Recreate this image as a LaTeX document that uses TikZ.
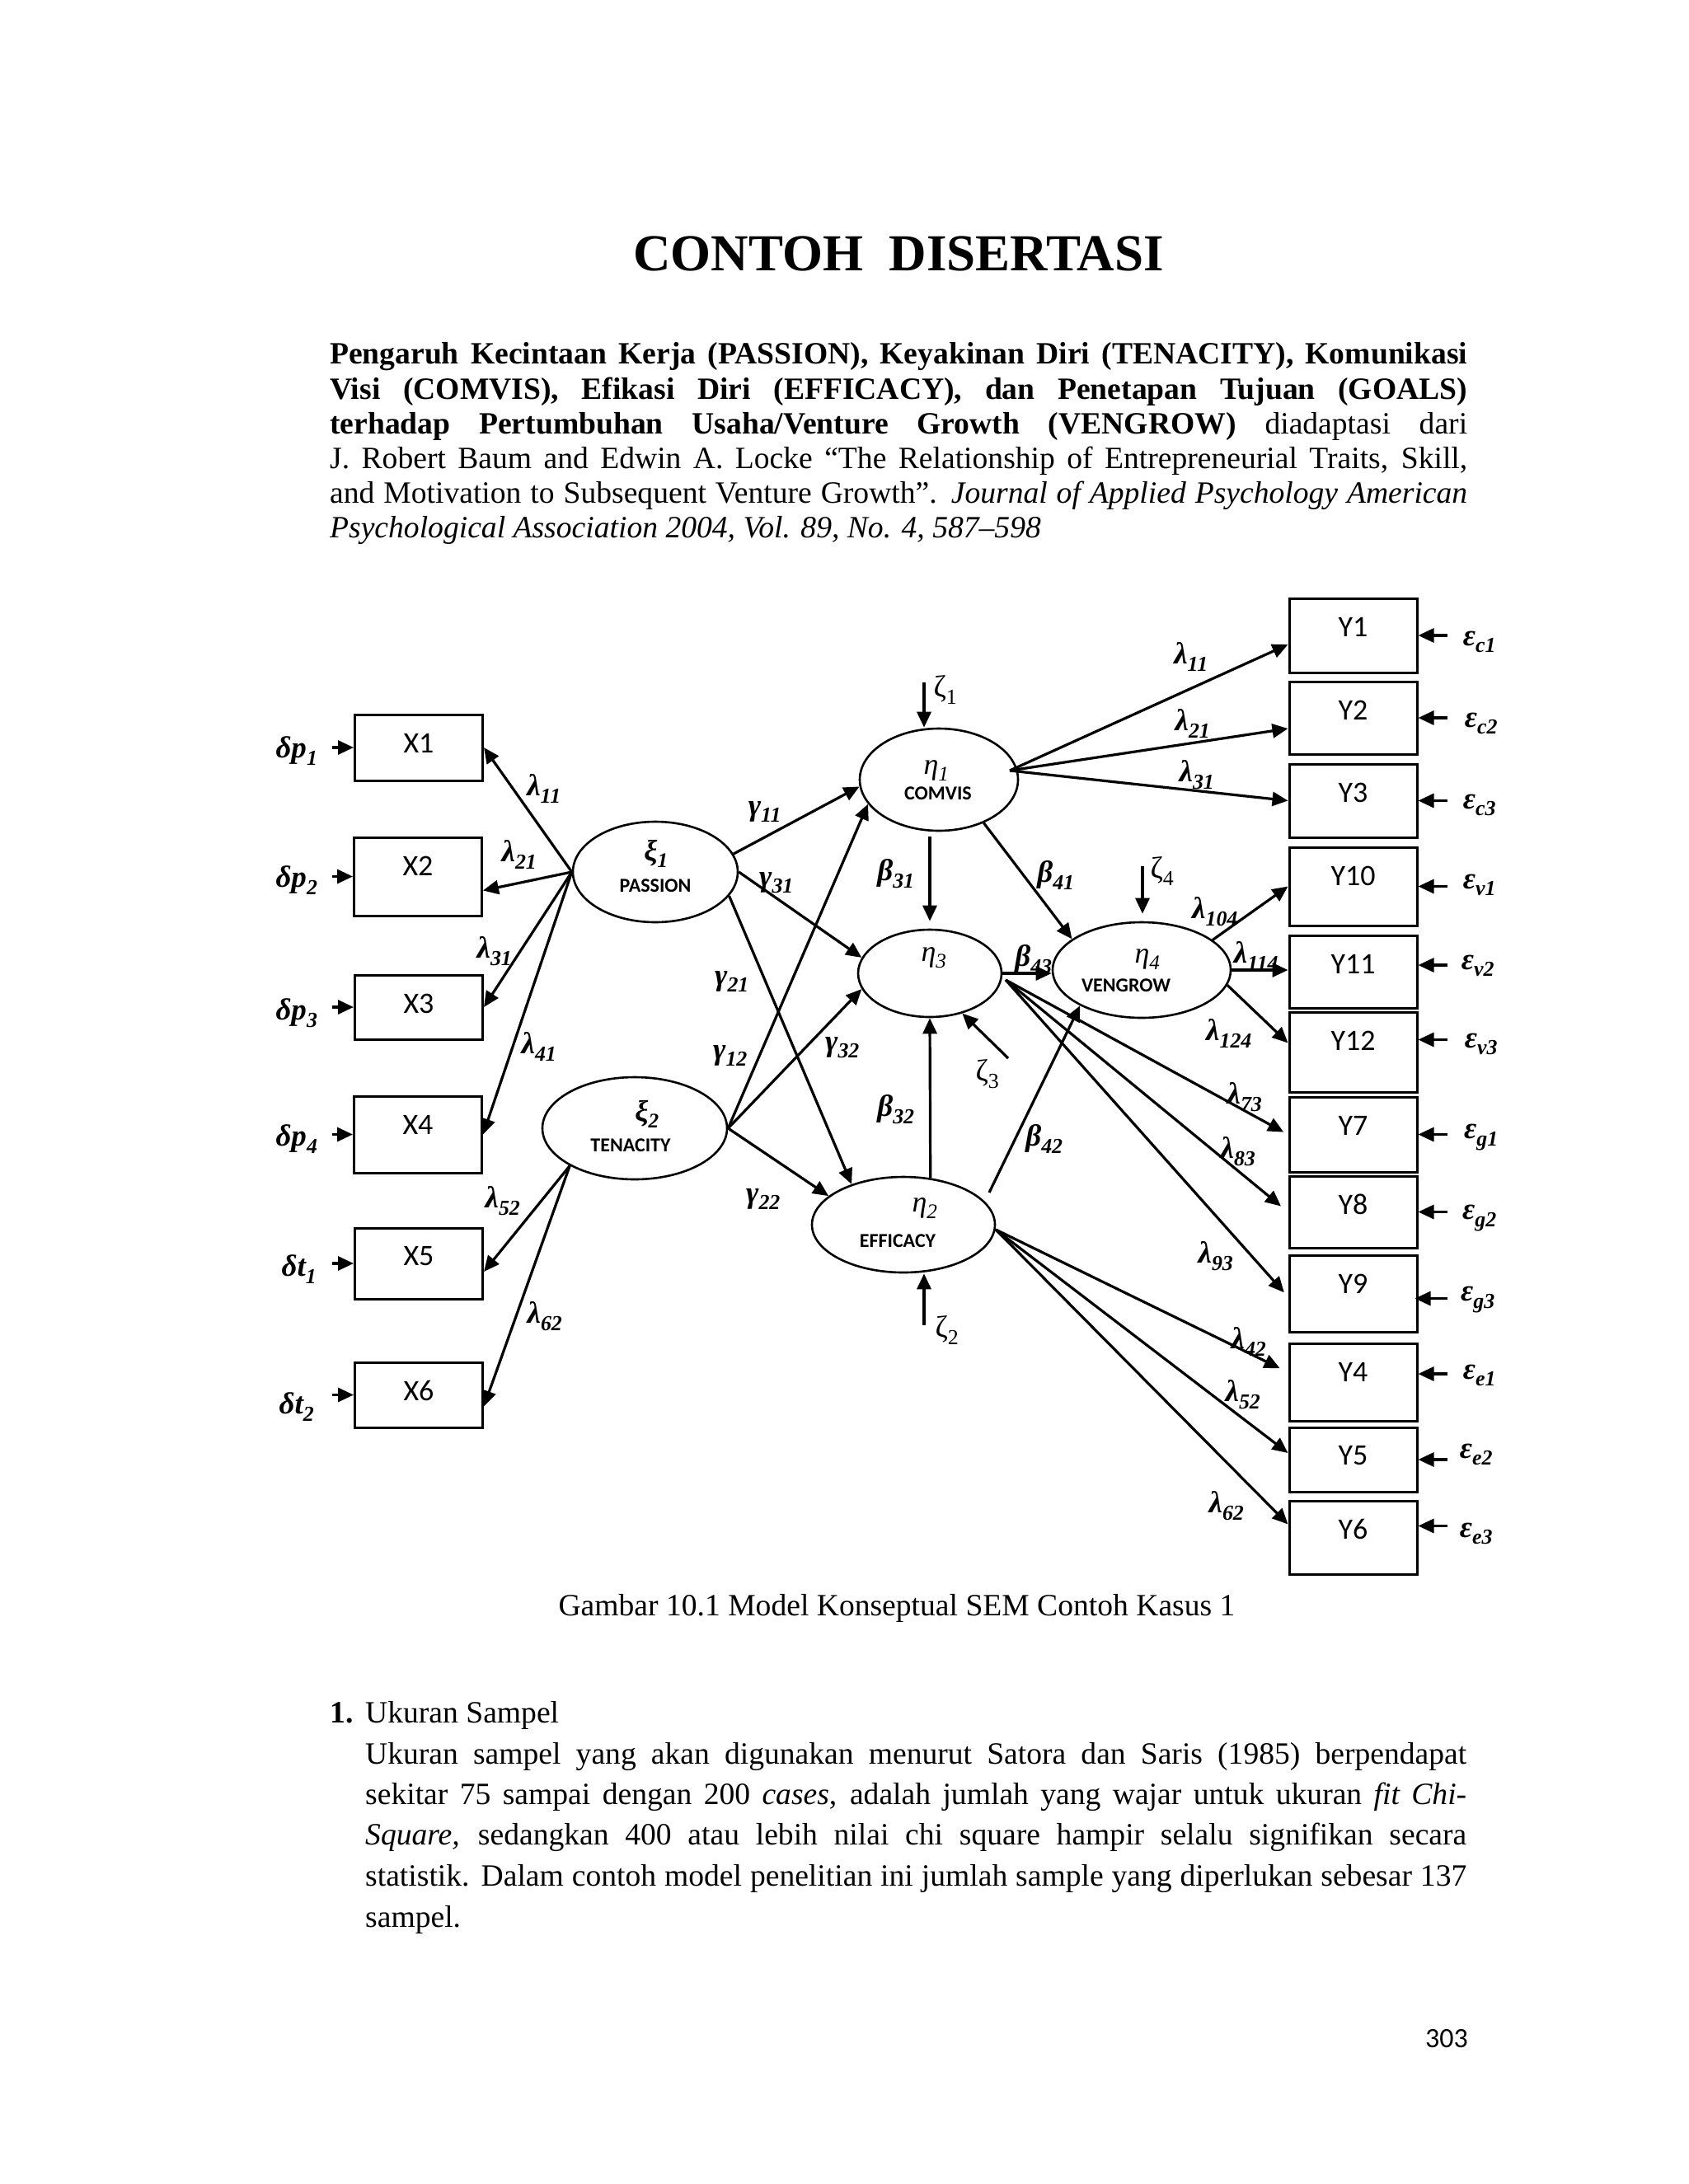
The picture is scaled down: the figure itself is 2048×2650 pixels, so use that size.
\documentclass[tikz,border=0pt]{standalone}
\usepackage{fontspec}
\setmainfont{Liberation Serif}
\newfontfamily\calfont{Carlito}
\usetikzlibrary{arrows.meta,shapes.geometric,calc}
\newcommand{\fs}[1]{\fontsize{#1}{#1}\selectfont}
\newcommand{\gk}[2]{{\bfseries\itshape #1\textsubscript{#2}}}
\newcommand{\gi}[2]{{\itshape #1\textsubscript{#2}}}
\newcommand{\gu}[2]{{#1\textsubscript{#2}}}
\tikzset{
  box/.style={draw, line width=3pt, rectangle, inner sep=0pt, minimum width=155pt},
  blab/.style={inner sep=0pt, font=\calfont\fs{36}},
  lat/.style={draw, line width=2.6pt, ellipse, inner sep=0pt},
  nm/.style={inner sep=0pt, font=\calfont\bfseries\fs{24}},
  arr/.style={line width=3.2pt, -{Triangle[length=19pt,width=17pt]}},
  ln/.style={line width=3.2pt},
  gl/.style={inner sep=0pt, font=\fs{37}},
  gm/.style={inner sep=0pt, font=\fs{36}},
  gz/.style={inner sep=0pt, font=\fs{37}},
  para/.style={anchor=base west, inner sep=0pt, font=\fs{37.6}},
}
\begin{document}
\begin{tikzpicture}[x=1pt,y=-1pt]
\useasboundingbox (0,0) rectangle (2048,2650);
\fill[white] (0,0) rectangle (2048,2650);

% ---------- header text ----------
\node[anchor=base, inner sep=0pt, font=\fs{63}\bfseries] (title) at (1090,328) {CONTOH\ \ DISERTASI};
\node[para] (p1) at (400,441) {\makebox[1380pt][s]{\bfseries Pengaruh Kecintaan Kerja (PASSION), Keyakinan Diri (TENACITY), Komunikasi}};
\node[para] (p2) at (400,484) {\makebox[1380pt][s]{\bfseries Visi (COMVIS), Efikasi Diri (EFFICACY), dan Penetapan Tujuan (GOALS)}};
\node[para] (p3) at (400,526) {\makebox[1380pt][s]{\bfseries terhadap Pertumbuhan Usaha/Venture Growth (VENGROW)\mdseries{} diadaptasi dari}};
\node[para] (p4) at (400,568) {\makebox[1380pt][s]{J. Robert Baum and Edwin A. Locke “The Relationship of Entrepreneurial Traits, Skill,}};
\node[para] (p5) at (400,610) {\makebox[1380pt][s]{and Motivation to Subsequent Venture Growth”. \itshape Journal of Applied Psychology American}};
\node[para] (p6) at (400,652) {\itshape Psychological Association 2004, Vol. 89, No. 4, 587–598};

% ---------- X boxes ----------
\node[box, minimum height=80pt] (X1) at (508,907) {};
\node[box, minimum height=95pt] (X2) at (507,1063.5) {};
\node[box, minimum height=78pt] (X3) at (508,1222) {};
\node[box, minimum height=93pt] (X4) at (507,1376.5) {};
\node[box, minimum height=86pt] (X5) at (508,1533) {};
\node[box, minimum height=79pt] (X6) at (508,1692.5) {};
\foreach \n in {1,...,6}{\node[blab] (X\n t) at ([yshift=-36pt]X\n.north) {X\n};}

% ---------- Y boxes ----------
\node[box, minimum height=90pt] (Y1) at (1641.5,771) {};
\node[box, minimum height=88pt] (Y2) at (1641.5,871) {};
\node[box, minimum height=89pt] (Y3) at (1641.5,971.5) {};
\node[box, minimum height=95pt] (Y10) at (1641.5,1075.5) {};
\node[box, minimum height=88pt] (Y11) at (1641.5,1179) {};
\node[box, minimum height=97pt] (Y12) at (1641.5,1276.5) {};
\node[box, minimum height=91pt] (Y7) at (1641.5,1376.5) {};
\node[box, minimum height=87pt] (Y8) at (1641.5,1470.5) {};
\node[box, minimum height=93pt] (Y9) at (1641.5,1569.5) {};
\node[box, minimum height=94pt] (Y4) at (1641.5,1677) {};
\node[box, minimum height=78pt] (Y5) at (1641.5,1771) {};
\node[box, minimum height=89pt] (Y6) at (1641.5,1865.5) {};
\foreach \n in {1,2,3,10,11,12,7,8,9,4,5,6}{\node[blab] (Y\n t) at ([yshift=-36pt]Y\n.north) {Y\n};}

% ---------- latent ellipses ----------
\node[lat, minimum width=200pt, minimum height=122pt] (PAS) at (795,1058) {};
\node[lat, minimum width=224pt, minimum height=124pt] (TEN) at (770,1369) {};
\node[lat, minimum width=192pt, minimum height=124pt] (COM) at (1139,946) {};
\node[lat, minimum width=174pt, minimum height=106pt] (ETA3) at (1128,1181) {};
\node[lat, minimum width=216pt, minimum height=116pt] (VEN) at (1385,1177) {};
\node[lat, minimum width=222pt, minimum height=116pt] (EFF) at (1096,1486) {};

\node[gm] (PASg) at (796,1036) {\gk{ξ}{1}};
\node[nm] (PASt) at (795,1075) {PASSION};
\node[gm] (TENg) at (785,1352) {\gk{ξ}{2}};
\node[nm] (TENt) at (765,1390) {TENACITY};
\node[gm] (COMg) at (1136,935) {\gi{η}{1}};
\node[nm] (COMt) at (1138,963) {COMVIS};
\node[gm] (ETA3g) at (1133,1162) {\gi{η}{3}};
\node[gm] (VENg) at (1392,1164) {\gi{η}{4}};
\node[nm] (VENt) at (1366,1196) {VENGROW};
\node[gm] (EFFg) at (1122,1466) {\gi{η}{2}};
\node[nm] (EFFt) at (1089,1506) {EFFICACY};

% ---------- helper coordinates ----------
\coordinate (dx) at (403,0);
\coordinate (ex) at (1756,0);
\coordinate (cvh) at (1225,935);
\coordinate (e3h) at (1220,1189);
\coordinate (efh) at (1208,1492);
\coordinate (b42s) at (1200,1447);
\coordinate (z1s) at (1121,828);
\coordinate (z4s) at (1386,1051);
\coordinate (z3s) at (1223,1284);
\coordinate (z2s) at (1121,1608);

% ---------- delta labels and arrows ----------
\node[gl] (dp1) at (360,911) {\gk{δp}{1}};
\node[gl] (dp2) at (360,1068) {\gk{δp}{2}};
\node[gl] (dp3) at (360,1229) {\gk{δp}{3}};
\node[gl] (dp4) at (360,1382) {\gk{δp}{4}};
\node[gl] (dt1) at (363,1540) {\gk{δt}{1}};
\node[gl] (dt2) at (360,1707) {\gk{δt}{2}};
\foreach \n in {1,...,6}{\draw[arr] (X\n.west -| dx) -- (X\n.west);}

% ---------- epsilon labels and arrows ----------
\node[gl] (ec1) at (1795,779) {\gk{ε}{c1}};
\node[gl] (ec2) at (1797,878) {\gk{ε}{c2}};
\node[gl] (ec3) at (1795,977) {\gk{ε}{c3}};
\node[gl] (ev1) at (1795,1074) {\gk{ε}{v1}};
\node[gl] (ev2) at (1793,1172) {\gk{ε}{v2}};
\node[gl] (ev3) at (1797,1267) {\gk{ε}{v3}};
\node[gl] (eg1) at (1797,1380) {\gk{ε}{g1}};
\node[gl] (eg2) at (1795,1478) {\gk{ε}{g2}};
\node[gl] (eg3) at (1793,1577) {\gk{ε}{g3}};
\node[gl] (ee1) at (1795,1669) {\gk{ε}{e1}};
\node[gl] (ee2) at (1791,1765) {\gk{ε}{e2}};
\node[gl] (ee3) at (1791,1861) {\gk{ε}{e3}};
\foreach \n in {1,2,3,10,7,8,5}{\draw[arr] (Y\n.east -| ex) -- (Y\n.east);}
\draw[arr] ([yshift=8pt]Y11.east -| ex) -- ([yshift=8pt]Y11.east);
\draw[arr] ([yshift=15pt]Y12.east -| ex) -- ([yshift=15pt]Y12.east);
\draw[arr] ([yshift=-6pt]Y9.east -| ex) -- ([yshift=-6pt,xshift=-4pt]Y9.east);
\draw[arr] ([yshift=10pt]Y4.east -| ex) -- ([yshift=10pt]Y4.east);
\draw[arr] ([yshift=14pt]Y6.east -| ex) -- ([yshift=14pt]Y6.east);

% ---------- exogenous loadings ----------
\draw[arr] (PAS.west) -- (X1.east);
\draw[arr] (PAS.west) -- ([yshift=-17pt]X2.east);
\draw[arr] (PAS.west) -- (X3.east);
\draw[arr] (PAS.west) -- (X4.east);
\draw[arr] (TEN.210) -- ([yshift=-10pt]X5.east);
\draw[arr] (TEN.210) -- ([yshift=-14pt]X6.east);
\node[gl] (lx11) at (660,957) {\gk{λ}{11}};
\node[gl] (lx21) at (630,1037) {\gk{λ}{21}};
\node[gl] (lx31) at (600,1154) {\gk{λ}{31}};
\node[gl] (lx41) at (654,1270) {\gk{λ}{41}};
\node[gl] (lx52) at (610,1457) {\gk{λ}{52}};
\node[gl] (lx62) at (661,1597) {\gk{λ}{62}};

% ---------- structural paths ----------
\draw[arr] (PAS.13) -- (COM.185);
\draw[arr] (PAS.east) -- (ETA3.167);
\draw[arr] (PAS.-18) -- (EFF.142);
\draw[arr] (TEN.east) -- (COM.199);
\draw[arr] (TEN.east) -- (ETA3.193);
\draw[arr] (TEN.east) -- (EFF.159);
\draw[arr, shorten <=6pt, shorten >=9pt] (ETA3.north |- COM.south) -- (ETA3.north);
\draw[arr] (COM.-44) -- (VEN.156);
\draw[arr] (ETA3.east) -- (ETA3.east -| VEN.west);
\draw[arr] (EFF.60) -- (ETA3.south);
\draw[arr] (b42s) -- (VEN.210);
\node[gl] (g11) at (928,985) {\gk{γ}{11}};
\node[gl] (g31) at (942,1071) {\gk{γ}{31}};
\node[gl] (g21) at (888,1191) {\gk{γ}{21}};
\node[gl] (g12) at (886,1281) {\gk{γ}{12}};
\node[gl] (g32) at (1022,1271) {\gk{γ}{32}};
\node[gl] (g22) at (926,1455) {\gk{γ}{22}};
\node[gl] (b31) at (1087,1060) {\gk{β}{31}};
\node[gl] (b41) at (1281,1062) {\gk{β}{41}};
\node[gl] (b43) at (1254,1164) {\gk{β}{43}};
\node[gl] (b32) at (1087,1346) {\gk{β}{32}};
\node[gl] (b42) at (1267,1382) {\gk{β}{42}};

% ---------- disturbances ----------
\draw[arr] (z1s) -- (z1s |- COM.north);
\draw[arr, shorten >=9pt] (z4s) -- (z4s |- VEN.north);
\draw[arr] (z3s) -- (ETA3.-51);
\draw[arr] (z2s) -- (z2s |- EFF.south);
\node[gz] (z1) at (1147,837) {\gu{ζ}{1}};
\node[gz] (z4) at (1410,1057) {\gu{ζ}{4}};
\node[gz] (z3) at (1198,1303) {\gu{ζ}{3}};
\node[gz] (z2) at (1149,1614) {\gu{ζ}{2}};

% ---------- endogenous loadings ----------
\draw[arr] (cvh) -- ([yshift=-11pt]Y1.west);
\draw[arr] (cvh) -- ([yshift=-13pt]Y2.west);
\draw[arr] (cvh) -- (Y3.west);
\draw[arr] (VEN.23) -- (Y10.west);
\draw[arr] (VEN.east) -- (VEN.east -| Y11.west);
\draw[arr] (VEN.-10) -- ([yshift=11pt]Y12.west);
\draw[arr, shorten >=6pt] (e3h) -- (Y7.west);
\draw[arr, shorten >=11pt] (e3h) -- (Y8.west);
\draw[arr, shorten >=7pt] (e3h) -- ([yshift=-4pt]Y9.west);
\draw[arr, shorten >=11pt] (efh) -- ([yshift=12pt]Y4.west);
\draw[arr] (efh) -- ([yshift=8pt]Y5.west);
\draw[arr] (efh) -- ([yshift=16pt]Y6.west);
\node[gl] (ly11) at (1445,797) {\gk{λ}{11}};
\node[gl] (ly21) at (1447,878) {\gk{λ}{21}};
\node[gl] (ly31) at (1452,940) {\gk{λ}{31}};
\node[gl] (ly104) at (1474,1106) {\gk{λ}{104}};
\node[gl] (ly114) at (1524,1160) {\gk{λ}{114}};
\node[gl] (ly124) at (1491,1254) {\gk{λ}{124}};
\node[gl] (ly73) at (1510,1331) {\gk{λ}{73}};
\node[gl] (ly83) at (1502,1397) {\gk{λ}{83}};
\node[gl] (ly93) at (1475,1524) {\gk{λ}{93}};
\node[gl] (ly42) at (1515,1628) {\gk{λ}{42}};
\node[gl] (ly52) at (1508,1692) {\gk{λ}{52}};
\node[gl] (ly62) at (1488,1827) {\gk{λ}{62}};

% ---------- caption and body text ----------
\node[anchor=base, inner sep=0pt, font=\fs{37.6}] (cap) at (1088,1960) {Gambar 10.1 Model Konseptual SEM Contoh Kasus 1};
\node[para] (s1n) at (400,2090) {\bfseries 1.};
\node[para] (s1t) at (443,2090) {Ukuran Sampel};
\node[para] (q1) at (443,2140) {\makebox[1336pt][s]{Ukuran sampel yang akan digunakan menurut Satora dan Saris (1985) berpendapat}};
\node[para] (q2) at (443,2189) {\makebox[1336pt][s]{sekitar 75 sampai dengan 200 \textit{cases}, adalah jumlah yang wajar untuk ukuran \textit{fit Chi-}}};
\node[para] (q3) at (443,2238) {\makebox[1336pt][s]{\textit{Square,} sedangkan 400 atau lebih nilai chi square hampir selalu signifikan secara}};
\node[para] (q4) at (443,2288) {\makebox[1336pt][s]{statistik. Dalam contoh model penelitian ini jumlah sample yang diperlukan sebesar 137}};
\node[para] (q5) at (443,2338) {sampel.};
\node[inner sep=0pt, font=\calfont\fs{34}] (pg) at (1755,2474) {303};
\end{tikzpicture}
\end{document}
